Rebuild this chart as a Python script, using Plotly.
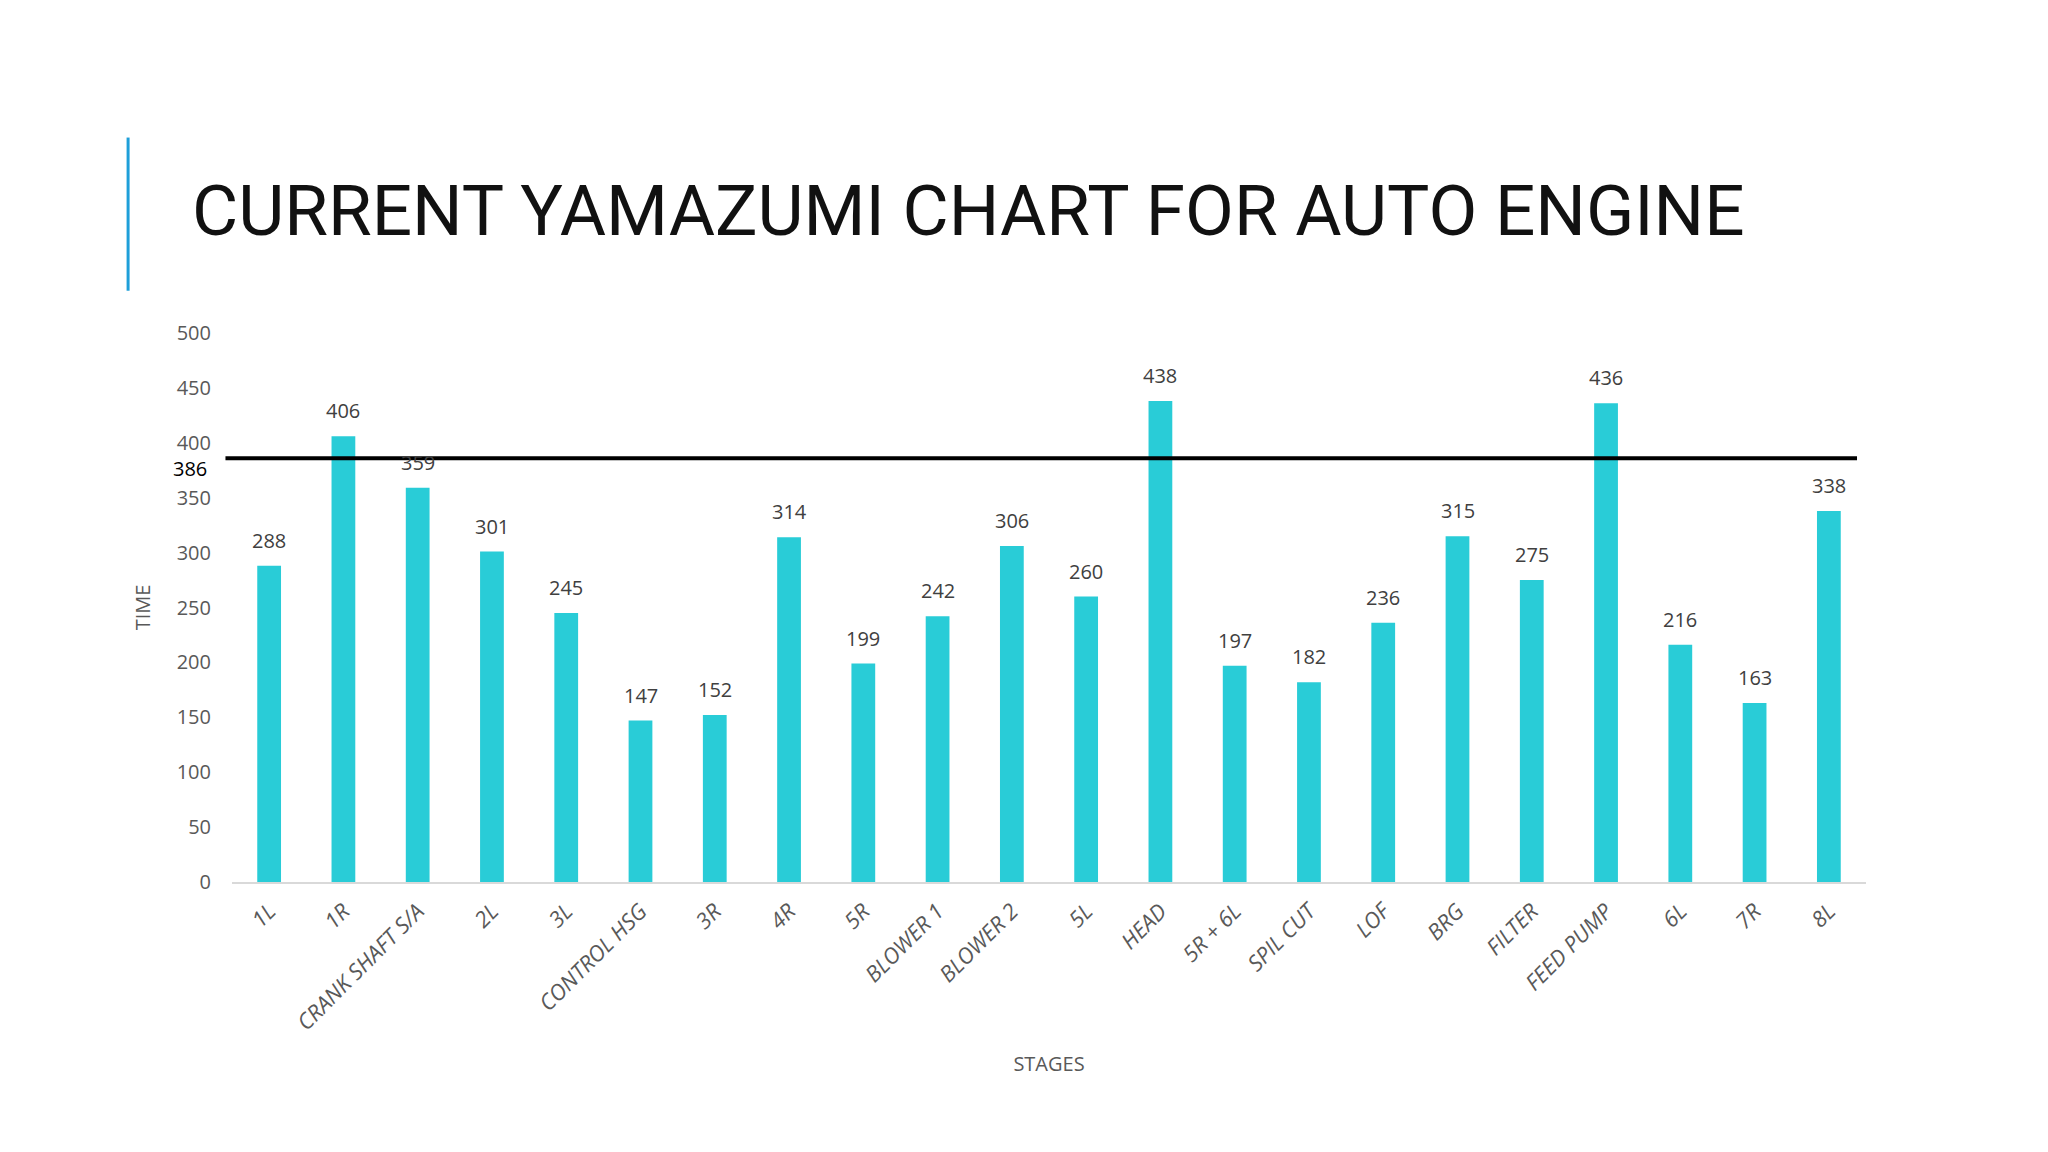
import plotly.graph_objects as go

stages = ["1L", "1R", "CRANK SHAFT S/A", "2L", "3L", "CONTROL HSG", "3R", "4R", "5R",
          "BLOWER 1", "BLOWER 2", "5L", "HEAD", "5R + 6L", "SPIL CUT", "LOF", "BRG",
          "FILTER", "FEED PUMP", "6L", "7R", "8L"]
times = [288, 406, 359, 301, 245, 147, 152, 314, 199, 242, 306, 260, 438, 197, 182,
         236, 315, 275, 436, 216, 163, 338]
takt_time = 386
y_ticks = [0, 50, 100, 150, 200, 250, 300, 350, 400, 450, 500]

BAR = "#29CCD7"
GRAY = "#595959"
FONT = "Open Sans"

fig = go.Figure()
fig.add_trace(go.Bar(x=stages, y=times, marker=dict(color=BAR, line=dict(width=0)),
                     hoverinfo="x+y"))

for s, t in zip(stages, times):
    fig.add_annotation(x=s, y=t, text=str(t), showarrow=False, yanchor="bottom",
                       yshift=10, font=dict(family=FONT, size=20, color="#404040"))

# takt time line
fig.add_shape(type="line", xref="paper", yref="y", x0=-0.004, x1=0.9945, y0=takt_time,
              y1=takt_time, line=dict(color="black", width=4), layer="above")
fig.add_annotation(xref="paper", yref="y", x=-0.014, y=takt_time, yshift=-10,
                   text=str(takt_time), showarrow=False, xanchor="right", yanchor="middle",
                   font=dict(family=FONT, size=20, color="black"))

# title
fig.add_annotation(xref="paper", yref="paper", x=-0.026, y=1.0, yshift=123,
                   xanchor="left", yanchor="middle",
                   text="CURRENT YAMAZUMI CHART FOR AUTO ENGINE", showarrow=False,
                   font=dict(family="Roboto, sans-serif", size=71, color="#111111"))
# accent bar
fig.add_shape(type="line", xref="paper", yref="paper", x0=-0.0636, x1=-0.0636,
              y0=1.077, y1=1.356, line=dict(color="#1E9FD9", width=3))

fig.update_layout(
    width=2048, height=1152,
    margin=dict(l=232, r=182, t=333, b=270),
    paper_bgcolor="white", plot_bgcolor="white",
    showlegend=False, bargap=0.68,
    font=dict(family=FONT, color=GRAY),
    xaxis=dict(tickangle=-45, tickfont=dict(family=FONT, size=22, color=GRAY, style="italic"),
               showgrid=False, showline=True, linecolor="#D9D9D9", linewidth=1.5,
               ticks="", ticklabelstandoff=6,
               title=dict(text="STAGES", font=dict(family=FONT, size=20, color=GRAY),
                          standoff=22)),
    yaxis=dict(range=[0, 500], tickvals=y_ticks, showgrid=False, zeroline=False,
               showline=False, ticks="", ticklabelstandoff=20,
               tickfont=dict(family=FONT, size=20, color=GRAY),
               title=dict(text="TIME", font=dict(family=FONT, size=20, color=GRAY),
                          standoff=20)),
)

fig.write_html("out.html")
